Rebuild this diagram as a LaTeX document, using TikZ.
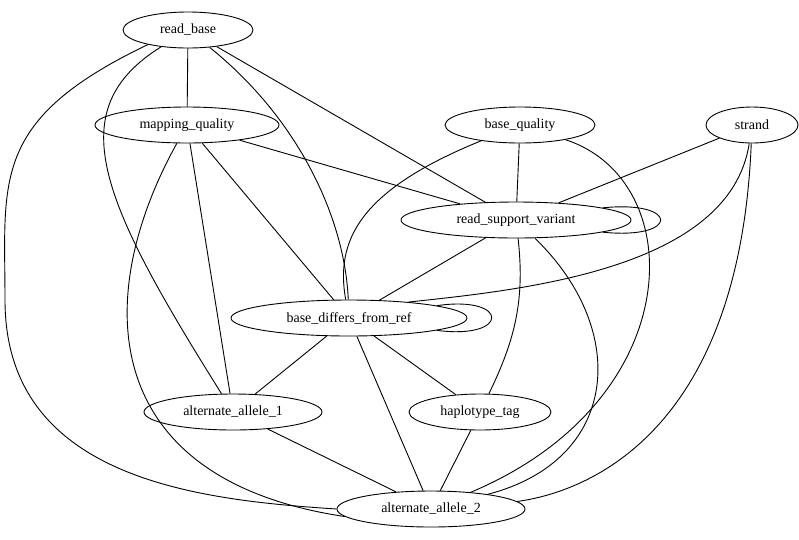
\documentclass[tikz,border=0pt]{standalone}
\usepackage{fontspec}
\setmainfont{Liberation Serif}
\usetikzlibrary{shapes.geometric}
\begin{document}
\begin{tikzpicture}[x=1pt,y=-1pt,
  nd/.style={draw,ellipse,inner sep=0pt,minimum height=36pt,font=\fontsize{14}{16}\selectfont},
  every path/.style={line width=0.9pt}]
\useasboundingbox (0,0) rectangle (799,539);
\node[nd,minimum width=130pt] (rb) at (188,30) {read\_base};
\node[nd,minimum width=184pt] (mq) at (187,125) {mapping\_quality};
\node[nd,minimum width=150pt] (bq) at (520,125) {base\_quality};
\node[nd,minimum width=92pt] (st) at (752,125) {strand};
\node[nd,minimum width=230pt] (rsv) at (516,220) {read\_support\_variant};
\node[nd,minimum width=236pt] (bdr) at (349,318) {base\_differs\_from\_ref};
\node[nd,minimum width=178pt] (a1) at (233,412) {alternate\_allele\_1};
\node[nd,minimum width=142pt] (ht) at (480,412) {haplotype\_tag};
\node[nd,minimum width=188pt] (a2) at (431,509) {alternate\_allele\_2};

\draw (rb) -- (mq);
\draw (rb) -- (rsv);
\draw (rb) .. controls (300,120) and (345,220) .. (bdr);
\draw (rb) .. controls (60,110) and (100,200) .. (a1);
\draw (rb.200) .. controls (-10,120) and (5,180) .. (5,300) .. controls (5,480) and (200,500) .. (a2.west);
\draw (mq) -- (rsv);
\draw (mq) -- (bdr);
\draw (mq) -- (a1);
\draw (mq) .. controls (90,300) and (100,480) .. (a2.185);
\draw (bq) -- (rsv);
\draw (bq) .. controls (360,190) and (335,240) .. (bdr);
\draw (bq) .. controls (690,180) and (690,400) .. (a2);
\draw (st) -- (rsv);
\draw (st) .. controls (730,270) and (520,290) .. (bdr.15);
\draw (st) .. controls (740,420) and (600,490) .. (a2.5);
\draw (rsv.8) .. controls (680,200) and (680,240) .. (rsv.-8);
\draw (rsv) -- (bdr);
\draw (rsv) .. controls (525,300) and (515,340) .. (ht);
\draw (rsv) .. controls (630,330) and (620,460) .. (a2);
\draw (bdr.8) .. controls (510,295) and (510,340) .. (bdr.-8);
\draw (bdr) -- (a1);
\draw (bdr) -- (ht);
\draw (bdr) -- (a2);
\draw (a1) -- (a2);
\draw (ht) -- (a2);
\end{tikzpicture}
\end{document}
